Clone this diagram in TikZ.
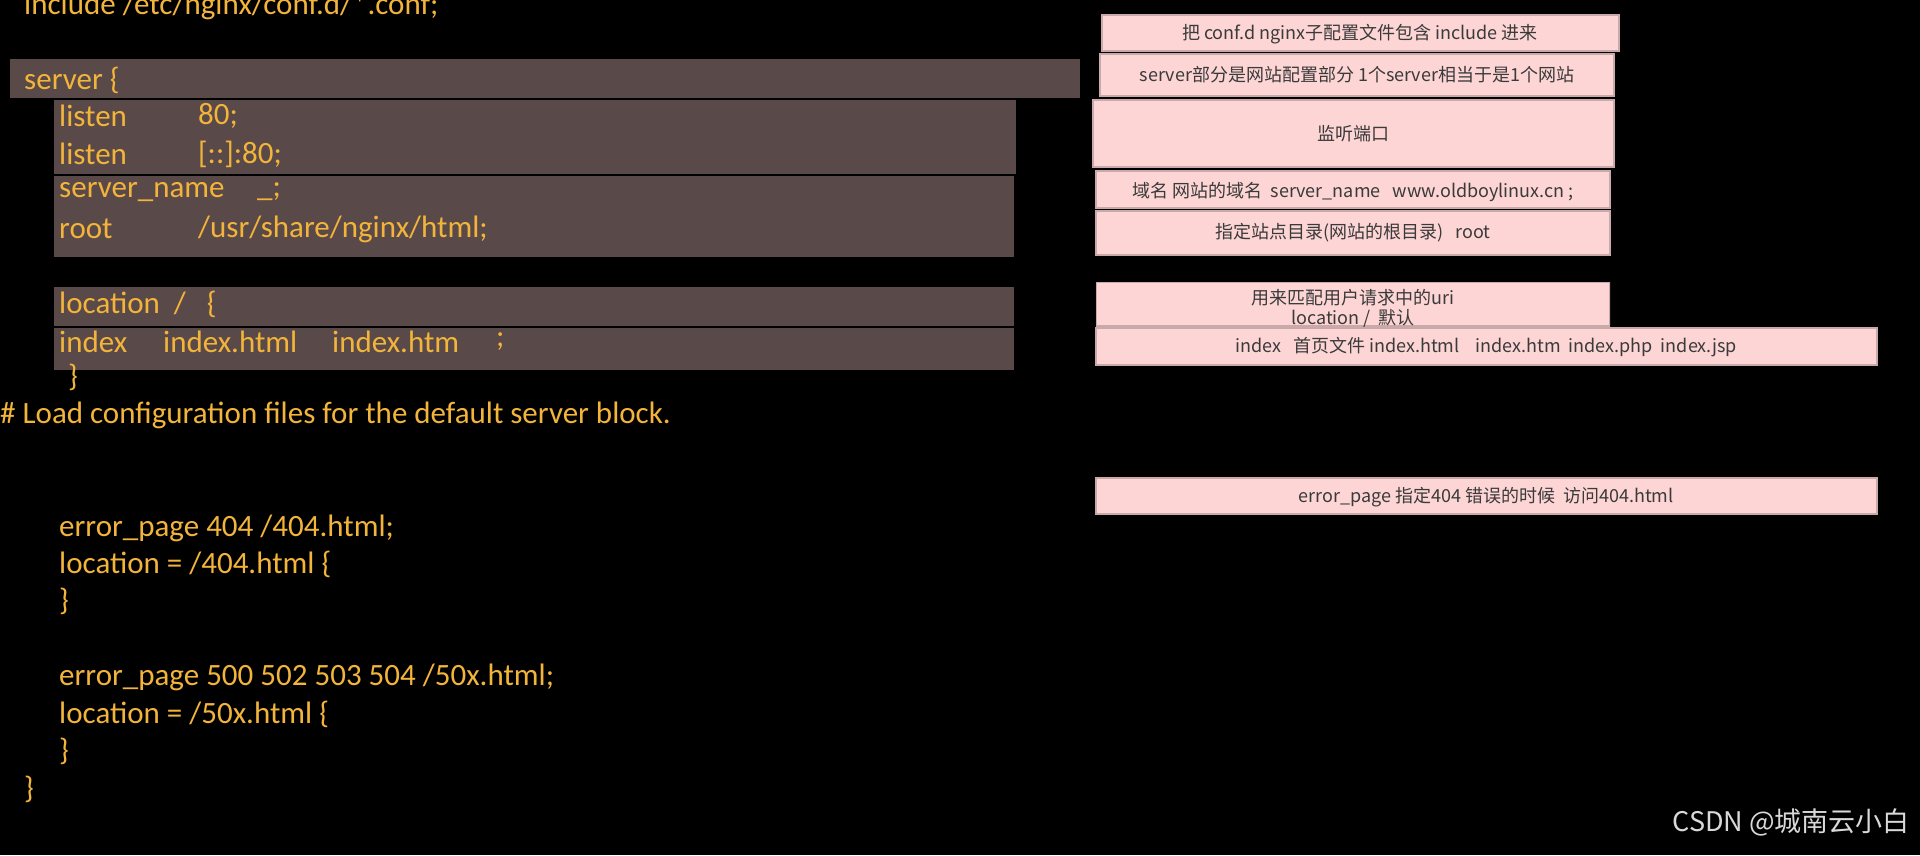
\documentclass[tikz,border=0pt]{standalone}
\usepackage{fontspec}
\setmainfont{Carlito}
\newfontfamily\cjk{Noto Sans CJK SC}
\definecolor{codey}{HTML}{F2B43A}
\definecolor{barfill}{HTML}{5A4949}
\definecolor{pinkfill}{HTML}{FDD5D5}
\definecolor{pinkline}{HTML}{C9A9A9}
\definecolor{notetext}{HTML}{3A3A3A}
\begin{document}
\begin{tikzpicture}[x=1pt,y=-1pt,
  code/.style={anchor=west,text=codey,font=\fontsize{31}{31}\selectfont,inner sep=0pt},
  bar/.style={fill=barfill,draw=none},
  note/.style={fill=pinkfill,draw=pinkline,line width=1.2pt},
  notetxt/.style={text=notetext,font=\cjk\fontsize{18}{20}\selectfont,inner sep=0pt,align=center}]
\fill[black] (0,0) rectangle (1920,855);
\useasboundingbox (0,0) rectangle (1920,855);
% bars
\path[bar] (10,59) rectangle (1080,98);
\path[bar] (54,100) rectangle (1016,174);
\path[bar] (54,176) rectangle (1014,257);
\path[bar] (54,287) rectangle (1014,326);
\path[bar] (54,328) rectangle (1014,370);
% code
\node[code] (l0) at (24,6) {include /etc/nginx/conf.d/*.conf;};
\node[code] (l1) at (24,80) {server \{};
\node[code] (l2) at (59,116) {listen};
\node[code] (l2b) at (198,116) {80;};
\node[code] (l3) at (59,154) {listen};
\node[code] (l3b) at (198,154) {[::]:80;};
\node[code] (l4) at (59,192) {server\_name};
\node[code] (l4b) at (257,192) {\_;};
\node[code] (l5) at (59,229) {root};
\node[code] (l5b) at (198,229) {/usr/share/nginx/html;};
\node[code] (l6) at (59,304) {location~~/~~~\{};
\node[code] (l7) at (59,342) {index};
\node[code] (l7b) at (163,342) {index.html};
\node[code] (l7c) at (332,342) {index.htm};
\node[code] (l7d) at (496,342) {;};
\node[code] (l8) at (68,377) {\}};
\node[code] (l9) at (0,415) {\# Load configuration files for the default server block.};
\node[code] (l10) at (59,528) {error\_page 404 /404.html;};
\node[code] (l11) at (59,564) {location = /404.html \{};
\node[code] (l12) at (59,601) {\}};
\node[code] (l13) at (59,677) {error\_page 500 502 503 504 /50x.html;};
\node[code] (l14) at (59,714) {location = /50x.html \{};
\node[code] (l15) at (59,751) {\}};
\node[code] (l16) at (24,789) {\}};
% notes
\path[note] (1102,15) rectangle (1619,51);
\node[notetxt] (n1) at (1360,34) {把 conf.d nginx子配置文件包含 include 进来};
\path[note] (1100,54) rectangle (1614,96);
\node[notetxt] (n2) at (1357,75) {server部分是网站配置部分 1个server相当于是1个网站};
\path[note] (1093,100) rectangle (1614,167);
\node[notetxt] (n3) at (1353,134) {监听端口};
\path[note] (1096,171) rectangle (1610,208);
\node[notetxt] (n4) at (1353,192) {域名 网站的域名~~server\_name~~~www.oldboylinux.cn ;};
\path[note] (1096,211) rectangle (1610,255);
\node[notetxt] (n5) at (1353,233) {指定站点目录(网站的根目录)~~~root};
\begin{scope}
\clip (1096,282) rectangle (1610,326);
\path[note] (1096,282) rectangle (1610,326);
\node[notetxt] (n6) at (1353,308) {用来匹配用户请求中的uri\\location~/~~默认};
\end{scope}
\path[note] (1096,328) rectangle (1877,365);
\node[notetxt] (n7) at (1486,347) {index~~~首页文件~index.html~~~~index.htm~~index.php~~index.jsp};
\path[note] (1096,478) rectangle (1877,514);
\node[notetxt] (n8) at (1486,497) {error\_page 指定404 错误的时候~~访问404.html};
\node[anchor=east,text=white!85!black,font=\cjk\fontsize{27}{27}\selectfont,inner sep=0pt] (wm) at (1910,822) {CSDN @城南云小白};
\end{tikzpicture}
\end{document}
